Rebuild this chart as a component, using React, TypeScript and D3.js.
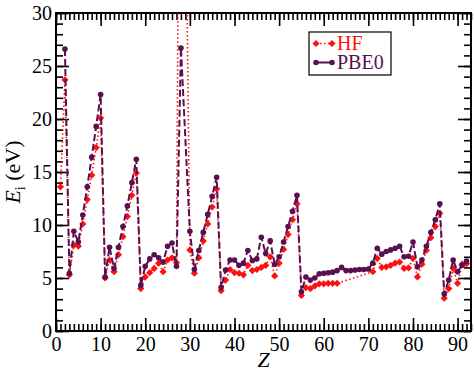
import { useEffect, useRef } from 'react';
import * as d3 from 'd3';

// atomic number, 1..92
const zValues = d3.range(1, 93);

// HF ionisation energies (eV), null = not computed
const hfValues: (number | null)[] = [
  13.6, 23.7, 5.3, 8.1, 8.0, 10.1, 12.4, 14.7, 17.3, 20.1,
  5.0, 6.7, 5.6, 7.2, 8.9, 10.8, 12.8, 14.9, 4.0, 5.1,
  5.5, 5.9, 6.4, 5.6, 6.7, 6.9, 6.45, 80, null, 7.65,
  5.45, 6.9, 8.5, 10.1, 11.7, 13.4, 3.8, 4.8, 5.8, 5.5,
  5.45, 5.3, 6.2, 5.7, 5.8, 6.0, 6.2, 7.0, 5.2, 6.4,
  7.7, 9.1, 10.5, 12.0, 3.35, 4.1, 4.0, 4.25, 4.45, 4.45,
  4.5, 4.5, 4.5, null, null, null, null, null, null, null,
  5.6, 6.85, 6.0, 6.05, 6.2, 6.4, 6.5, 5.9, 5.95, 6.85,
  5.1, 6.3, 7.6, 8.8, 9.85, 11.1, 3.1, 4.0, 5.9, 4.5,
  6.3, 6.35,
];

// PBE0 ionisation energies (eV)
const pbe0Values: (number | null)[] = [
  null, 26.6, 5.45, 9.4, 8.4, 10.95, 13.6, 16.4, 19.3, 22.3,
  5.1, 7.9, 5.9, 7.9, 9.85, 11.8, 14.0, 16.2, 4.3, 6.1,
  6.8, 7.2, 6.9, 6.5, 8.0, 8.3, 6.1, 26.7, null, 9.4,
  5.8, 7.6, 9.3, 11.0, 12.7, 14.5, 4.1, 5.75, 6.7, 6.7,
  6.2, 6.4, 7.6, 6.65, 6.8, 8.85, 7.3, 8.5, 6.3, 7.0,
  8.4, 9.85, 11.3, 12.8, 3.7, 5.1, 4.8, 5.0, 5.4, 5.45,
  5.5, 5.55, 5.7, 6.0, 5.7, 5.7, 5.76, 5.8, 5.8, 5.85,
  6.4, 7.8, 7.25, 7.5, 7.65, 7.8, 8.0, 7.0, 7.05, 8.4,
  6.05, 6.7, 8.0, 9.3, 10.5, 12.0, 3.5, 4.8, 6.7, 5.6,
  6.2, 6.6,
];

const xMajorTicks = d3.range(0, 91, 10);
const yMajorTicks = d3.range(0, 31, 5);

const HF_COLOR = '#ff1010';
const PBE0_COLOR = '#5a0f4e';
const FONT = "'Liberation Serif', 'DejaVu Serif', 'Times New Roman', Times, serif";

export default function App() {
  const svgRef = useRef<SVGSVGElement>(null);

  useEffect(() => {
    const width = 474;
    const height = 372;
    const margin = { top: 13, right: 3, bottom: 41, left: 56 };
    const x0 = margin.left;
    const x1 = width - margin.right;
    const y0 = height - margin.bottom;
    const y1 = margin.top;

    const svg = d3.select(svgRef.current);
    svg.selectAll('*').remove();

    const xScale = d3.scaleLinear().domain([0, 93]).range([x0, x1]);
    const yScale = d3.scaleLinear().domain([0, 30]).range([y0, y1]);

    svg.append('defs').append('clipPath').attr('id', 'plot-clip')
      .append('rect')
      .attr('x', x0).attr('y', y1)
      .attr('width', x1 - x0).attr('height', y0 - y1);

    // ticks, all pointing inward
    const styleAxis = (g: any) => {
      g.attr('font-family', null).attr('font-size', null);
      g.select('.domain').remove();
      g.selectAll('line').attr('stroke', '#000').attr('stroke-width', 1.6);
      g.selectAll('text')
        .style('font-family', FONT)
        .style('font-size', '20px')
        .attr('fill', '#000');
    };
    const xMinor = d3.range(0, 94, 1);
    const yMinor = d3.range(0, 31, 1);

    svg.append('g').attr('transform', `translate(0,${y0})`)
      .call(d3.axisBottom(xScale).tickValues(xMinor).tickSize(-7).tickFormat(() => ''))
      .call(styleAxis);
    svg.append('g').attr('transform', `translate(0,${y0})`)
      .call(d3.axisBottom(xScale).tickValues(xMajorTicks).tickSize(-13).tickPadding(6).tickFormat(d3.format('d')))
      .call(styleAxis);
    svg.append('g').attr('transform', `translate(0,${y1})`)
      .call(d3.axisTop(xScale).tickValues(xMinor).tickSize(-7).tickFormat(() => ''))
      .call(styleAxis);
    svg.append('g').attr('transform', `translate(0,${y1})`)
      .call(d3.axisTop(xScale).tickValues(xMajorTicks).tickSize(-13).tickFormat(() => ''))
      .call(styleAxis);

    svg.append('g').attr('transform', `translate(${x0},0)`)
      .call(d3.axisLeft(yScale).tickValues(yMinor).tickSize(-7).tickFormat(() => ''))
      .call(styleAxis);
    svg.append('g').attr('transform', `translate(${x0},0)`)
      .call(d3.axisLeft(yScale).tickValues(yMajorTicks).tickSize(-13).tickPadding(4).tickFormat(d3.format('d')))
      .call(styleAxis);
    svg.append('g').attr('transform', `translate(${x1},0)`)
      .call(d3.axisRight(yScale).tickValues(yMinor).tickSize(-7).tickFormat(() => ''))
      .call(styleAxis);
    svg.append('g').attr('transform', `translate(${x1},0)`)
      .call(d3.axisRight(yScale).tickValues(yMajorTicks).tickSize(-13).tickFormat(() => ''))
      .call(styleAxis);

    // frame
    svg.append('rect')
      .attr('x', x0).attr('y', y1)
      .attr('width', x1 - x0).attr('height', y0 - y1)
      .attr('fill', 'none').attr('stroke', '#000').attr('stroke-width', 2);

    const plot = svg.append('g').attr('clip-path', 'url(#plot-clip)');

    const series = [
      { name: 'HF', values: hfValues, color: HF_COLOR, dash: '1.5,2.5', width: 1.6, shape: 'diamond' },
      { name: 'PBE0', values: pbe0Values, color: PBE0_COLOR, dash: '7,3', width: 2, shape: 'circle' },
    ];

    const diamond = 'M0,-3.6L3.6,0L0,3.6L-3.6,0Z';

    series.forEach(s => {
      const pts = zValues
        .map((z, i) => ({ z, v: s.values[i] }))
        .filter(d => d.v !== null) as { z: number; v: number }[];

      const line = d3.line<{ z: number; v: number }>()
        .x(d => xScale(d.z))
        .y(d => yScale(d.v));

      plot.append('path')
        .datum(pts)
        .attr('fill', 'none')
        .attr('stroke', s.color)
        .attr('stroke-width', s.width)
        .attr('stroke-dasharray', s.dash)
        .attr('d', line);

      if (s.shape === 'diamond') {
        plot.selectAll(null).data(pts).enter().append('path')
          .attr('d', diamond)
          .attr('transform', d => `translate(${xScale(d.z)},${yScale(d.v)})`)
          .attr('fill', s.color);
      } else {
        plot.selectAll(null).data(pts).enter().append('circle')
          .attr('cx', d => xScale(d.z))
          .attr('cy', d => yScale(d.v))
          .attr('r', 2.8)
          .attr('fill', s.color);
      }
    });

    // legend
    const lg = svg.append('g');
    lg.append('rect')
      .attr('x', 309).attr('y', 32).attr('width', 82).attr('height', 43)
      .attr('fill', '#fff').attr('stroke', '#000').attr('stroke-width', 1.2);
    series.forEach((s, i) => {
      const ly = 43.5 + i * 19;
      lg.append('line')
        .attr('x1', 316).attr('x2', 332).attr('y1', ly).attr('y2', ly)
        .attr('stroke', s.color).attr('stroke-width', s.width)
        .attr('stroke-dasharray', s.name === 'HF' ? s.dash : null);
      [316, 332].forEach(mx => {
        if (s.shape === 'diamond') {
          lg.append('path').attr('d', diamond)
            .attr('transform', `translate(${mx},${ly})`).attr('fill', s.color);
        } else {
          lg.append('circle').attr('cx', mx).attr('cy', ly).attr('r', 2.8).attr('fill', s.color);
        }
      });
      lg.append('text')
        .attr('x', 337).attr('y', ly + 6.5)
        .style('font-family', FONT).style('font-size', '20px')
        .attr('fill', s.color)
        .text(s.name);
    });

    // axis titles
    svg.append('text')
      .attr('x', (x0 + x1) / 2).attr('y', 367)
      .attr('text-anchor', 'middle')
      .style('font-family', FONT).style('font-size', '22px').style('font-style', 'italic')
      .text('Z');

    const yl = svg.append('text')
      .attr('transform', `translate(20,${(y0 + y1) / 2}) rotate(-90)`)
      .attr('text-anchor', 'middle')
      .style('font-family', FONT).style('font-size', '22px');
    yl.append('tspan').style('font-style', 'italic').text('E');
    yl.append('tspan').style('font-size', '14px').attr('dy', 5).text('i');
    yl.append('tspan').attr('dy', -5).text(' (eV)');
  }, []);

  return (
    <svg
      ref={svgRef}
      width={474}
      height={372}
      style={{ position: 'absolute', left: 0, top: 0, background: '#fff' }}
    />
  );
}
